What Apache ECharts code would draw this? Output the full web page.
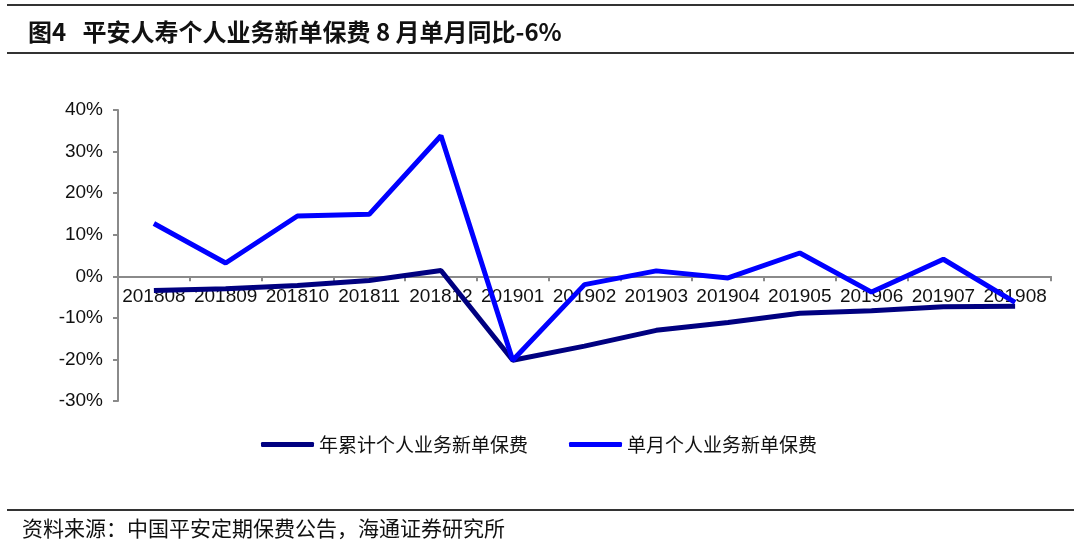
<!DOCTYPE html>
<html>
<head>
<meta charset="utf-8">
<script src="https://cdn.jsdelivr.net/npm/echarts@6/dist/echarts.min.js"></script>
<style>
  html, body { margin: 0; padding: 0; background: #fff; }
  #chart { width: 1080px; height: 544px; }
</style>
</head>
<body>
<div id="chart"></div>
<script>
const months = ['201808', '201809', '201810', '201811', '201812', '201901', '201902',
  '201903', '201904', '201905', '201906', '201907', '201908']

// 年累计 (cumulative YTD), % yoy
const ytdValues = [-3.4, -3.0, -2.2, -1.0, 1.4, -20.2, -16.8, -13.0, -11.1, -8.9, -8.3, -7.3, -7.2]
// 单月 (single month), % yoy
const monthlyValues = [12.7, 3.2, 14.5, 14.9, 33.8, -20.2, -2.0, 1.3, -0.4, 5.6, -3.8, 4.1, -6.3]

const seriesNames = ['年累计个人业务新单保费', '单月个人业务新单保费']
const titleText = '图4   平安人寿个人业务新单保费 8 月单月同比-6%'
const sourceText = '资料来源：中国平安定期保费公告，海通证券研究所'

const cjk = '"Noto Sans CJK SC", sans-serif'
const latin = '"Liberation Sans", Arial, sans-serif'
const axisColor = '#8a8a8a'
const yMin = -30

const chart = echarts.init(document.getElementById('chart'))

chart.setOption({
  animation: false,
  backgroundColor: '#fff',
  title: {
    text: titleText,
    left: 23,
    top: 15,
    textStyle: { fontFamily: cjk, fontSize: 24, fontWeight: 'bold', color: '#111' },
  },
  graphic: [
    { type: 'line', shape: { x1: 7, y1: 5, x2: 1074, y2: 5 }, style: { stroke: '#333', lineWidth: 2 } },
    { type: 'line', shape: { x1: 7, y1: 53, x2: 1074, y2: 53 }, style: { stroke: '#333', lineWidth: 2 } },
    { type: 'line', shape: { x1: 7, y1: 510, x2: 1074, y2: 510 }, style: { stroke: '#333', lineWidth: 2 } },
    {
      type: 'text',
      left: 22,
      top: 518,
      style: { text: sourceText, font: '21px ' + cjk, fill: '#111' },
    },
  ],
  legend: {
    left: 256,
    top: 430,
    icon: 'roundRect',
    itemWidth: 53,
    itemHeight: 5,
    itemGap: 41,
    textStyle: { fontFamily: cjk, fontSize: 19, color: '#111' },
    data: seriesNames,
  },
  grid: {
    left: 118,
    right: 29,
    top: 110,
    bottom: 143,
  },
  xAxis: {
    type: 'category',
    data: months,
    boundaryGap: true,
    axisLine: { onZero: false, lineStyle: { color: axisColor, width: 2 } },
    axisTick: { show: true, length: 5, lineStyle: { color: axisColor, width: 2 } },
    axisLabel: { interval: 0, margin: 11, fontFamily: latin, fontSize: 19, color: '#111' },
    splitLine: { show: false },
  },
  yAxis: {
    type: 'value',
    min: yMin,
    max: 40,
    interval: 10,
    axisLine: { show: true, lineStyle: { color: axisColor, width: 2 } },
    axisTick: { show: true, length: 5, lineStyle: { color: axisColor, width: 2 } },
    axisLabel: { formatter: '{value}%', margin: 15, fontFamily: latin, fontSize: 19, color: '#111' },
    splitLine: { show: false },
  },
  series: [
    {
      name: seriesNames[0],
      type: 'line',
      data: ytdValues,
      symbol: 'none',
      lineStyle: { width: 5, color: '#000080' },
      itemStyle: { color: '#000080' },
    },
    {
      name: seriesNames[1],
      type: 'line',
      data: monthlyValues,
      symbol: 'none',
      lineStyle: { width: 5, color: '#0000ff' },
      itemStyle: { color: '#0000ff' },
    },
  ],
})

// move the category axis (line, ticks and labels) up to the 0% line
const zeroY = chart.convertToPixel({ yAxisIndex: 0 }, 0)
const bottomY = chart.convertToPixel({ yAxisIndex: 0 }, yMin)
chart.setOption({ xAxis: { offset: -(bottomY - zeroY) } })
</script>
</body>
</html>
